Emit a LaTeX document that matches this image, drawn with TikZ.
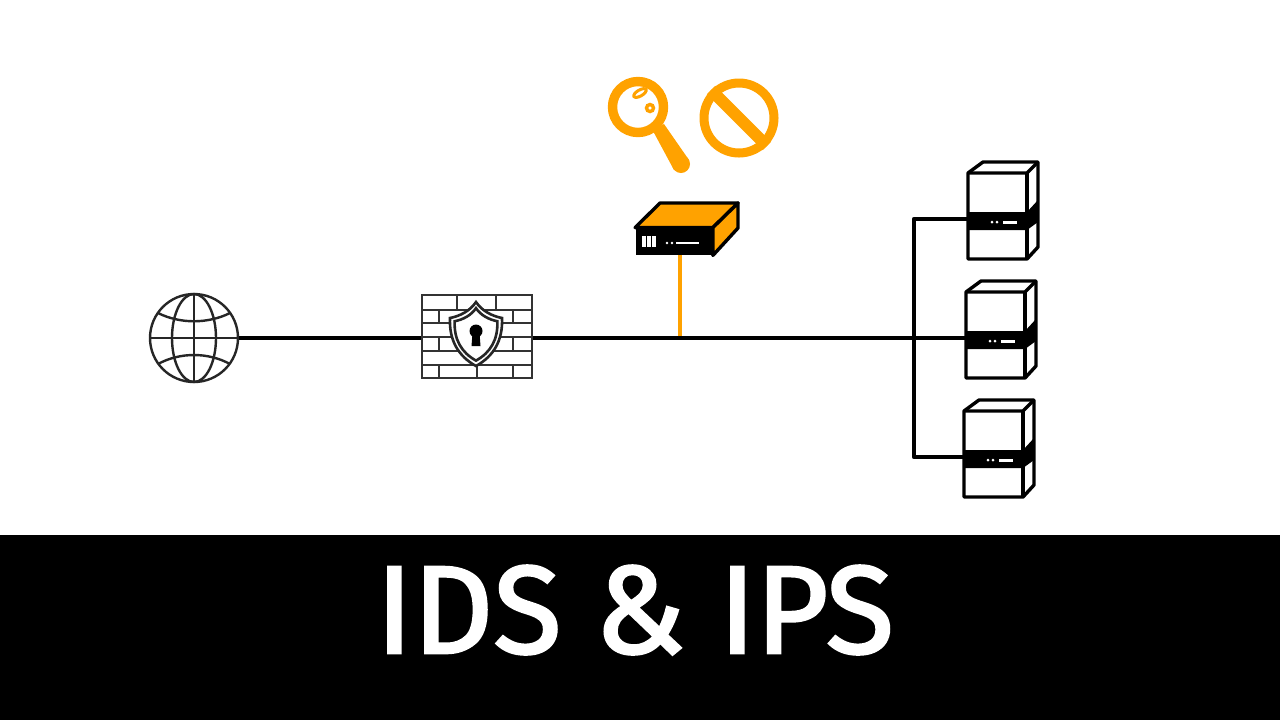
\documentclass[tikz,border=0pt]{standalone}
\usepackage{fontspec}
\setmainfont{Fira Sans}
\newfontfamily\titlefont[FakeBold=2]{Fira Sans}
\definecolor{idsorange}{HTML}{FFA200}
\newcommand{\shieldoutline}{(0,-34) .. controls (-6,-25) and (-16,-20) .. (-26,-18) .. controls (-27,4) and (-18,20) .. (0,30) .. controls (18,20) and (27,4) .. (26,-18) .. controls (16,-20) and (6,-25) .. (0,-34) -- cycle}
\tikzset{
    serverbox/.pic = {
        \draw[srvline, fill=white] (0,0) -- (15,-11) -- (70,-11) -- (70,74) -- (59,86) -- (0,86) -- cycle;
        \draw[srvline] (0,0) -- (59,0) -- (70,-11);
        \draw[srvline] (59,0) -- (59,86);
        \fill[black] (0,39) -- (59,39) -- (70,27) -- (70,49) -- (59,57) -- (0,57) -- cycle;
        \fill[white] (24,49) circle[radius=1.5];
        \fill[white] (29,49) circle[radius=1.5];
        \fill[white] (35,47.5) rectangle (49,50.5);
        \coordinate (-port) at (0,46);
    },
    srvline/.style = {line width=1.7pt, line join=round},
    wire/.style = {line width=2.2pt, line join=round},
    globeline/.style = {line width=1.2pt, draw=black!85},
    brick/.style = {line width=1pt, draw=black!80}
}
\begin{document}
\begin{tikzpicture}[x=.5pt, y=-.5pt]
    \useasboundingbox (0,0) rectangle (1280,720);
    \fill[white] (0,0) rectangle (1280,720);
    \fill[black] (0,535) rectangle (1280,720);
    \node[text=white, font=\titlefont\fontsize{62.5}{63}\selectfont] (title) at (635,610) {IDS \& IPS};

    \node[circle, globeline, draw, minimum size=44pt, inner sep=0pt] (globe) at (194,338) {};
    \draw[globeline] (194,338) ellipse[x radius=22, y radius=44];
    \draw[globeline] (194,294) -- (194,382);
    \draw[globeline] (150,338) -- (238,338);
    \draw[globeline] (158,313) .. controls (180,324) and (208,324) .. (230,313);
    \draw[globeline] (158,364) .. controls (180,352) and (208,352) .. (230,364);

    \node[draw, brick, minimum width=55pt, minimum height=41.5pt, inner sep=0pt] (firewall) at (476.5,336.5) {};
    \foreach \yy in {310,323,337,351,365}
        \draw[brick] (422,\yy) -- (532,\yy);
    \foreach \xx in {457,496}
        \draw[brick] (\xx,295) -- (\xx,310);
    \foreach \xx in {439,513}
        \draw[brick] (\xx,310) -- (\xx,323) (\xx,337) -- (\xx,351) (\xx,365) -- (\xx,378);
    \draw[brick] (477,365) -- (477,378);
    \begin{scope}[shift={(476,336)}]
        \draw[fill=white, line width=1.3pt, draw=black!85] \shieldoutline;
        \draw[fill=white, line width=1.3pt, draw=black!85, scale=.82] \shieldoutline;
        \fill[black] (0,-5) circle[radius=6.5];
        \fill[black] (-3.5,-3) -- (3.5,-3) -- (4.5,10) -- (-4.5,10) -- cycle;
    \end{scope}

    \node[fill=black, minimum width=38.5pt, minimum height=13.5pt, inner sep=0pt] (ids) at (674,241.5) {};
    \draw[srvline, fill=idsorange] (ids.north west) -- (660,203) -- (738,203) -- (ids.north east) -- cycle;
    \draw[srvline, fill=idsorange] (ids.north east) -- (738,203) -- (738,228) -- (ids.south east) -- cycle;
    \foreach \xx in {644,649,654}
        \fill[white] (\xx-1.6,236) rectangle (\xx+1.6,247);
    \fill[white] (667,243) circle[radius=1.4];
    \fill[white] (672,243) circle[radius=1.4];
    \fill[white] (676,241.6) rectangle (699,244.4);

    \draw[idsorange, line width=4.7pt] (638,107) circle[radius=25.5];
    \fill[idsorange] (653,131) -- (664,124) -- (689,160) -- (674,170) -- cycle;
    \fill[idsorange] (681,164) circle[radius=9];
    \draw[idsorange, line width=1.5pt, rotate around={30:(640,93)}] (640,93) ellipse[x radius=7, y radius=3];
    \draw[idsorange, line width=1.7pt] (650,108) circle[radius=3.5];

    \node[circle, draw=idsorange, line width=4.5pt, minimum size=35pt, inner sep=0pt] (noentry) at (739,118) {};
    \draw[idsorange, line width=6pt] (noentry.north west) -- (noentry.south east);

    \pic (srvA) at (968,173) {serverbox};
    \pic (srvB) at (966,292) {serverbox};
    \pic (srvC) at (964,411) {serverbox};

    \coordinate (busA) at (914,219);
    \coordinate (busC) at (914,457);
    \coordinate (tap) at (680,338);

    \draw[idsorange, line width=2.2pt] (ids.south -| tap) -- (tap);
    \draw[wire] (globe.east) -- (firewall.west |- globe.east);
    \draw[wire] (firewall.east |- globe.east) -- (srvB-port |- globe.east);
    \draw[wire] (srvA-port) -- (busA) -- (busC) -- (srvC-port);
\end{tikzpicture}
\end{document}
